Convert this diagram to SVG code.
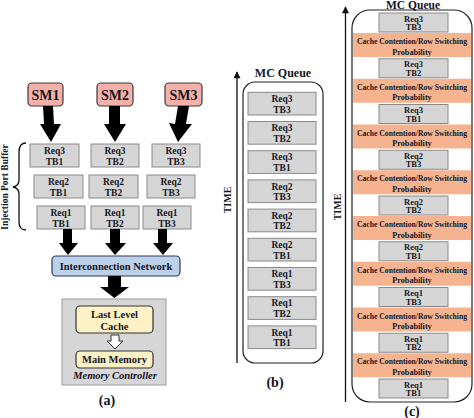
<svg xmlns="http://www.w3.org/2000/svg" width="474" height="418" viewBox="0 0 474 418">
<defs>
<marker id="ah" viewBox="0 0 10 10" refX="9" refY="5" markerWidth="8" markerHeight="7" orient="auto" markerUnits="userSpaceOnUse">
<path d="M0,0 L10,5 L0,10 Z" fill="#111"/>
</marker>
<style>
text{font-family:"Liberation Serif","Times New Roman",serif;font-weight:bold;fill:#15151f;text-anchor:middle}
.sm{fill:#f3b1aa;stroke:#3a3a3a;stroke-width:1.2}
.smt{font-size:14px}
.g{fill:#d5d5d5;stroke:#8a8a8a;stroke-width:1}
.rt{font-size:9.5px}
.rt2{font-size:8.5px}
.o{fill:#f5b48f;stroke:none}
.ot{font-size:8.2px}
.blk{fill:#000}
.ln{stroke:#111;stroke-width:1.3;fill:none}
.lbl{font-size:14px}
</style>
</defs>

<!-- Panel (a) -->
<g id="sm1"><rect class="sm" x="28" y="83" width="35" height="23" rx="4"/><text class="smt" x="45.5" y="99.5">SM1</text></g>
<g id="sm2"><rect class="sm" x="97" y="83" width="36" height="23" rx="4"/><text class="smt" x="115" y="99.5">SM2</text></g>
<g id="sm3"><rect class="sm" x="165" y="83" width="37" height="23" rx="4"/><text class="smt" x="183.5" y="99.5">SM3</text></g>

<g id="buf-r3">
<rect class="g" x="30" y="144" width="49" height="23"/><text class="rt" x="54.5" y="154">Req3</text><text class="rt" x="54.5" y="164.5">TB1</text>
<rect class="g" x="91" y="144" width="48" height="23"/><text class="rt" x="115" y="154">Req3</text><text class="rt" x="115" y="164.5">TB2</text>
<rect class="g" x="152" y="144" width="48" height="23"/><text class="rt" x="176" y="154">Req3</text><text class="rt" x="176" y="164.5">TB3</text>
</g>
<g id="buf-r2">
<rect class="g" x="34" y="175" width="49" height="23"/><text class="rt" x="58.5" y="185">Req2</text><text class="rt" x="58.5" y="195.5">TB1</text>
<rect class="g" x="89" y="175" width="49" height="23"/><text class="rt" x="113.5" y="185">Req2</text><text class="rt" x="113.5" y="195.5">TB2</text>
<rect class="g" x="147" y="175" width="48" height="23"/><text class="rt" x="171" y="185">Req2</text><text class="rt" x="171" y="195.5">TB3</text>
</g>
<g id="buf-r1">
<rect class="g" x="37" y="206" width="48" height="23"/><text class="rt" x="61" y="216">Req1</text><text class="rt" x="61" y="226.5">TB1</text>
<rect class="g" x="91" y="206" width="48" height="23"/><text class="rt" x="115" y="216">Req1</text><text class="rt" x="115" y="226.5">TB2</text>
<rect class="g" x="143" y="206" width="48" height="23"/><text class="rt" x="167" y="216">Req1</text><text class="rt" x="167" y="226.5">TB3</text>
</g>

<g id="ipb-label">
<path class="ln" d="M26,143 Q19,143 19,152 L19,180 Q19,186 13,187 Q19,188 19,194 L19,222 Q19,230 26,230" stroke-width="1"/>
<text x="0" y="0" font-size="9.5" transform="translate(8,187) rotate(-90)">Injection Port Buffer</text>
</g>

<g id="icn"><rect x="52" y="256" width="128" height="20" rx="4" fill="#bdd0ea" stroke="#2e3b55" stroke-width="1.2"/><text x="116" y="269.5" font-size="10.5">Interconnection Network</text></g>

<g id="mc">
<rect x="62" y="299" width="104" height="86" fill="#d6d6d6" stroke="#9a9a9a" stroke-width="1"/>
<g id="llc"><rect x="76" y="306" width="77" height="27" rx="4" fill="#fff1c6" stroke="#333" stroke-width="1.2"/><text x="114.5" y="317.5" font-size="10.5">Last Level</text><text x="114.5" y="329.5" font-size="10.5">Cache</text></g>
<g id="mm"><rect x="76" y="351" width="77" height="17" rx="4" fill="#fff1c6" stroke="#333" stroke-width="1.2"/><text x="114.5" y="363" font-size="10.5">Main Memory</text></g>
<text x="115" y="379" font-size="10.5" font-style="italic">Memory Controller</text>
</g>
<text class="lbl" x="107" y="405">(a)</text>

<!-- Panel (b) -->
<g id="queue-b">
<rect x="243" y="82" width="80" height="281" rx="12" fill="#fff" stroke="#222" stroke-width="1.2"/>
<text x="283" y="77" font-size="12">MC Queue</text>
<rect class="g" x="248" y="92.3" width="68" height="22.7"/><text class="rt" x="282" y="102">Req3</text><text class="rt" x="282" y="112.5">TB3</text>
<rect class="g" x="248" y="121.5" width="68" height="22.7"/><text class="rt" x="282" y="131.2">Req3</text><text class="rt" x="282" y="141.7">TB2</text>
<rect class="g" x="248" y="150.7" width="68" height="22.7"/><text class="rt" x="282" y="160.4">Req3</text><text class="rt" x="282" y="170.9">TB1</text>
<rect class="g" x="248" y="179.9" width="68" height="22.7"/><text class="rt" x="282" y="189.6">Req2</text><text class="rt" x="282" y="200.1">TB3</text>
<rect class="g" x="248" y="209.1" width="68" height="22.7"/><text class="rt" x="282" y="218.8">Req2</text><text class="rt" x="282" y="229.3">TB2</text>
<rect class="g" x="248" y="238.3" width="68" height="22.7"/><text class="rt" x="282" y="248">Req2</text><text class="rt" x="282" y="258.5">TB1</text>
<rect class="g" x="248" y="267.5" width="68" height="22.7"/><text class="rt" x="282" y="277.2">Req1</text><text class="rt" x="282" y="287.7">TB3</text>
<rect class="g" x="248" y="296.7" width="68" height="22.7"/><text class="rt" x="282" y="306.4">Req1</text><text class="rt" x="282" y="316.9">TB2</text>
<rect class="g" x="248" y="325.9" width="68" height="22.7"/><text class="rt" x="282" y="335.6">Req1</text><text class="rt" x="282" y="346.1">TB1</text>
</g>
<text x="0" y="0" font-size="10" transform="translate(231,200) rotate(-90)">TIME</text>
<text class="lbl" x="275" y="387">(b)</text>

<!-- Panel (c) -->
<g id="queue-c">
<rect x="352" y="10" width="120" height="392" rx="18" fill="#fff" stroke="#222" stroke-width="1.2"/>
<text x="413" y="9" font-size="11.5">MC Queue</text>
<g id="bands">
<rect class="o" x="353" y="33" width="118" height="24"/>
<rect class="o" x="353" y="78.75" width="118" height="24"/>
<rect class="o" x="353" y="124.5" width="118" height="24"/>
<rect class="o" x="353" y="170.25" width="118" height="24"/>
<rect class="o" x="353" y="216" width="118" height="24"/>
<rect class="o" x="353" y="261.75" width="118" height="24"/>
<rect class="o" x="353" y="307.5" width="118" height="24"/>
<rect class="o" x="353" y="353.25" width="118" height="24"/>
<text class="ot" x="412" y="44" textLength="110" lengthAdjust="spacingAndGlyphs">Cache Contention/Row Switching</text><text class="ot" x="412" y="54.5">Probability</text>
<text class="ot" x="412" y="89.75" textLength="110" lengthAdjust="spacingAndGlyphs">Cache Contention/Row Switching</text><text class="ot" x="412" y="100.25">Probability</text>
<text class="ot" x="412" y="135.5" textLength="110" lengthAdjust="spacingAndGlyphs">Cache Contention/Row Switching</text><text class="ot" x="412" y="146">Probability</text>
<text class="ot" x="412" y="181.25" textLength="110" lengthAdjust="spacingAndGlyphs">Cache Contention/Row Switching</text><text class="ot" x="412" y="191.75">Probability</text>
<text class="ot" x="412" y="227" textLength="110" lengthAdjust="spacingAndGlyphs">Cache Contention/Row Switching</text><text class="ot" x="412" y="237.5">Probability</text>
<text class="ot" x="412" y="272.75" textLength="110" lengthAdjust="spacingAndGlyphs">Cache Contention/Row Switching</text><text class="ot" x="412" y="283.25">Probability</text>
<text class="ot" x="412" y="318.5" textLength="110" lengthAdjust="spacingAndGlyphs">Cache Contention/Row Switching</text><text class="ot" x="412" y="329">Probability</text>
<text class="ot" x="412" y="364.25" textLength="110" lengthAdjust="spacingAndGlyphs">Cache Contention/Row Switching</text><text class="ot" x="412" y="374.75">Probability</text>
</g>
<g id="reqs-c">
<rect class="g" x="379" y="13" width="69" height="19"/><text class="rt2" x="413.5" y="21.5">Req3</text><text class="rt2" x="413.5" y="30">TB3</text>
<rect class="g" x="379" y="58.75" width="69" height="19"/><text class="rt2" x="413.5" y="67.25">Req3</text><text class="rt2" x="413.5" y="75.75">TB2</text>
<rect class="g" x="379" y="104.5" width="69" height="19"/><text class="rt2" x="413.5" y="113">Req3</text><text class="rt2" x="413.5" y="121.5">TB1</text>
<rect class="g" x="379" y="150.25" width="69" height="19"/><text class="rt2" x="413.5" y="158.75">Req2</text><text class="rt2" x="413.5" y="167.25">TB3</text>
<rect class="g" x="379" y="196" width="69" height="19"/><text class="rt2" x="413.5" y="204.5">Req2</text><text class="rt2" x="413.5" y="213">TB2</text>
<rect class="g" x="379" y="241.75" width="69" height="19"/><text class="rt2" x="413.5" y="250.25">Req2</text><text class="rt2" x="413.5" y="258.75">TB1</text>
<rect class="g" x="379" y="287.5" width="69" height="19"/><text class="rt2" x="413.5" y="296">Req1</text><text class="rt2" x="413.5" y="304.5">TB3</text>
<rect class="g" x="379" y="333.25" width="69" height="19"/><text class="rt2" x="413.5" y="341.75">Req1</text><text class="rt2" x="413.5" y="350.25">TB2</text>
<rect class="g" x="379" y="379" width="69" height="19"/><text class="rt2" x="413.5" y="387.5">Req1</text><text class="rt2" x="413.5" y="396">TB1</text>
</g>
</g>
<text x="0" y="0" font-size="10" transform="translate(341,207) rotate(-90)">TIME</text>
<text class="lbl" x="412" y="416">(c)</text>

<!-- Connectors -->
<g id="connectors">
<path class="blk" d="M43,106 L53,106 L54,124 L61,124 L51,142 L40,124 L44,124 Z"/>
<path class="blk" d="M109,106 L120,106 L120,124 L126,124 L115,142 L104,124 L109,124 Z"/>
<path class="blk" d="M178,106 L189,106 L186,124 L192,124 L178,142 L169,123 L175,124 Z"/>
<path class="blk" d="M63,229 L72,229 L72,243 L78,243 L68,255 L59,243 L63,243 Z"/>
<path class="blk" d="M110,229 L120,229 L120,243 L126,243 L115,255 L105,243 L110,243 Z"/>
<path class="blk" d="M158,229 L167,229 L167,243 L173,243 L163,255 L153,243 L158,243 Z"/>
<path class="blk" d="M108,276 L121,276 L121,287 L129,287 L114.5,298 L100,287 L108,287 Z"/>
<path d="M111,335 L119,335 L119,341 L123,341 L115,349 L107,341 L111,341 Z" fill="#fff" stroke="#333" stroke-width="1"/>
<line class="ln" x1="237" y1="363" x2="237" y2="72" marker-end="url(#ah)"/>
<line class="ln" x1="345.5" y1="402" x2="345.5" y2="7" marker-end="url(#ah)"/>
</g>
</svg>
